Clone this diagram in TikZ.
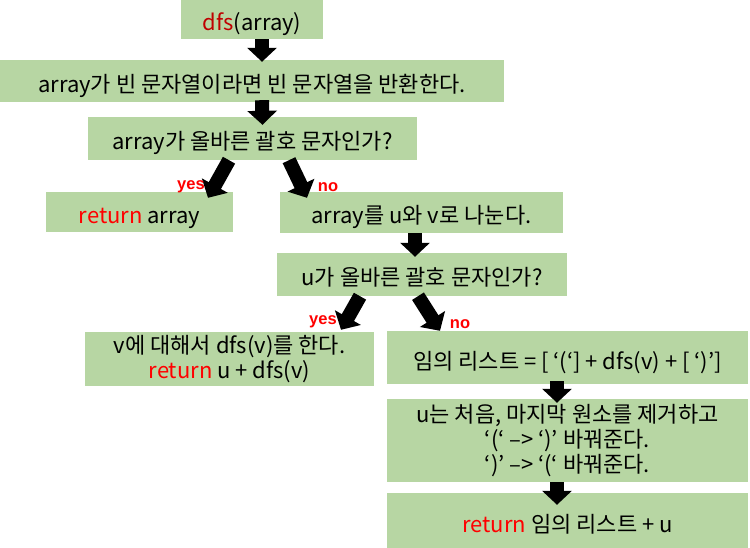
\documentclass[tikz,border=0pt]{standalone}
\usepackage{fontspec}
\setmainfont{Noto Sans CJK KR}
\newfontfamily\labelfont{Liberation Sans}
\usetikzlibrary{arrows.meta}

\definecolor{boxgreen}{RGB}{183,214,163}
\definecolor{dfsred}{RGB}{192,0,0}
\definecolor{retred}{RGB}{255,0,0}

\tikzset{
    stepbox/.style={fill=boxgreen, inner sep=0pt, align=center,
        font=\fontsize{22}{25}\selectfont},
    oneline/.style={stepbox, text height=23pt, text depth=0pt},
    manyline/.style={stepbox, execute at begin node={\rule{0pt}{#1}}},
    fatarrow/.style={line width=14pt, -{Triangle[width=29pt,length=14pt]}},
    answer/.style={text=retred, font=\labelfont\bfseries\fontsize{16.5}{16.5}\selectfont}
}

\begin{document}
\begin{tikzpicture}[x=1pt, y=-1pt]
    \useasboundingbox (0,0) rectangle (750,548);

    % the boxes of the flow
    \node[oneline, minimum width=142pt, minimum height=39pt] (start) at (252,19.5)
        {\textcolor{dfsred}{dfs}(array)};
    \node[oneline, minimum width=504pt, minimum height=42pt] (empty) at (252,81)
        {array가 빈 문자열이라면 빈 문자열을 반환한다.};
    \node[oneline, minimum width=329pt, minimum height=43pt] (check) at (252.5,138.5)
        {array가 올바른 괄호 문자인가?};
    \node[oneline, minimum width=187pt, minimum height=40pt] (retarr) at (139.5,212)
        {\textcolor{retred}{return} array};
    \node[oneline, minimum width=283pt, minimum height=41pt] (split) at (421.5,212.5)
        {array를 u와 v로 나눈다.};
    \node[oneline, minimum width=290pt, minimum height=43pt] (ucheck) at (422,274.5)
        {u가 올바른 괄호 문자인가?};
    \node[manyline=27pt, minimum width=289pt, minimum height=54pt] (recur) at (229.5,359)
        {v에 대해서 dfs(v)를 한다.\\ \textcolor{retred}{return} u + dfs(v)};
    \node[oneline, minimum width=361pt, minimum height=53pt] (list) at (567.5,357.5)
        {임의 리스트 = [ ‘(‘] + dfs(v) + [ ‘)’]};
    \node[manyline=35pt, minimum width=361pt, minimum height=83pt] (swap) at (567.5,440.5)
        {u는 처음, 마지막 원소를 제거하고\\ ‘(‘ –> ‘)’ 바꿔준다.\\ ‘)’ –> ‘(‘ 바꿔준다.};
    \node[oneline, minimum width=361pt, minimum height=55pt] (final) at (567.5,520.5)
        {\textcolor{retred}{return} 임의 리스트 + u};

    % straight arrows down
    \draw[fatarrow] ([xshift=10pt]start.south) -- ([xshift=10pt,yshift=-2pt]empty.north);
    \draw[fatarrow] ([xshift=10pt,yshift=2pt]empty.south) -- ([xshift=10pt,yshift=-8pt]check.north);
    \draw[fatarrow] ([xshift=-6.5pt]split.south) -- ([xshift=-7pt,yshift=-4pt]ucheck.north);
    \draw[fatarrow] ([xshift=-10.5pt,yshift=3pt]list.south) -- ([xshift=-10.5pt,yshift=-4pt]swap.north);
    \draw[fatarrow] ([xshift=-10.5pt]swap.south) -- ([xshift=-10.5pt,yshift=-12pt]final.north);

    % the yes / no branches
    \draw[fatarrow] ([xshift=-23.5pt]check.south) -- ([xshift=68.5pt,yshift=-6pt]retarr.north);
    \draw[fatarrow] ([xshift=36.5pt]check.south) -- ([xshift=-114.5pt,yshift=-6pt]split.north);
    \draw[fatarrow] ([xshift=-62pt]ucheck.south) -- ([xshift=111.5pt,yshift=2pt]recur.north);
    \draw[fatarrow] ([xshift=-4pt]ucheck.south) -- ([xshift=-127.5pt]list.north);

    % labels of the branches
    \node[answer] (yesA) at (191,187) {yes};
    \node[answer] (noA) at (328,187) {no};
    \node[answer] (yesB) at (323,322) {yes};
    \node[answer] (noB) at (460,324) {no};
\end{tikzpicture}
\end{document}
